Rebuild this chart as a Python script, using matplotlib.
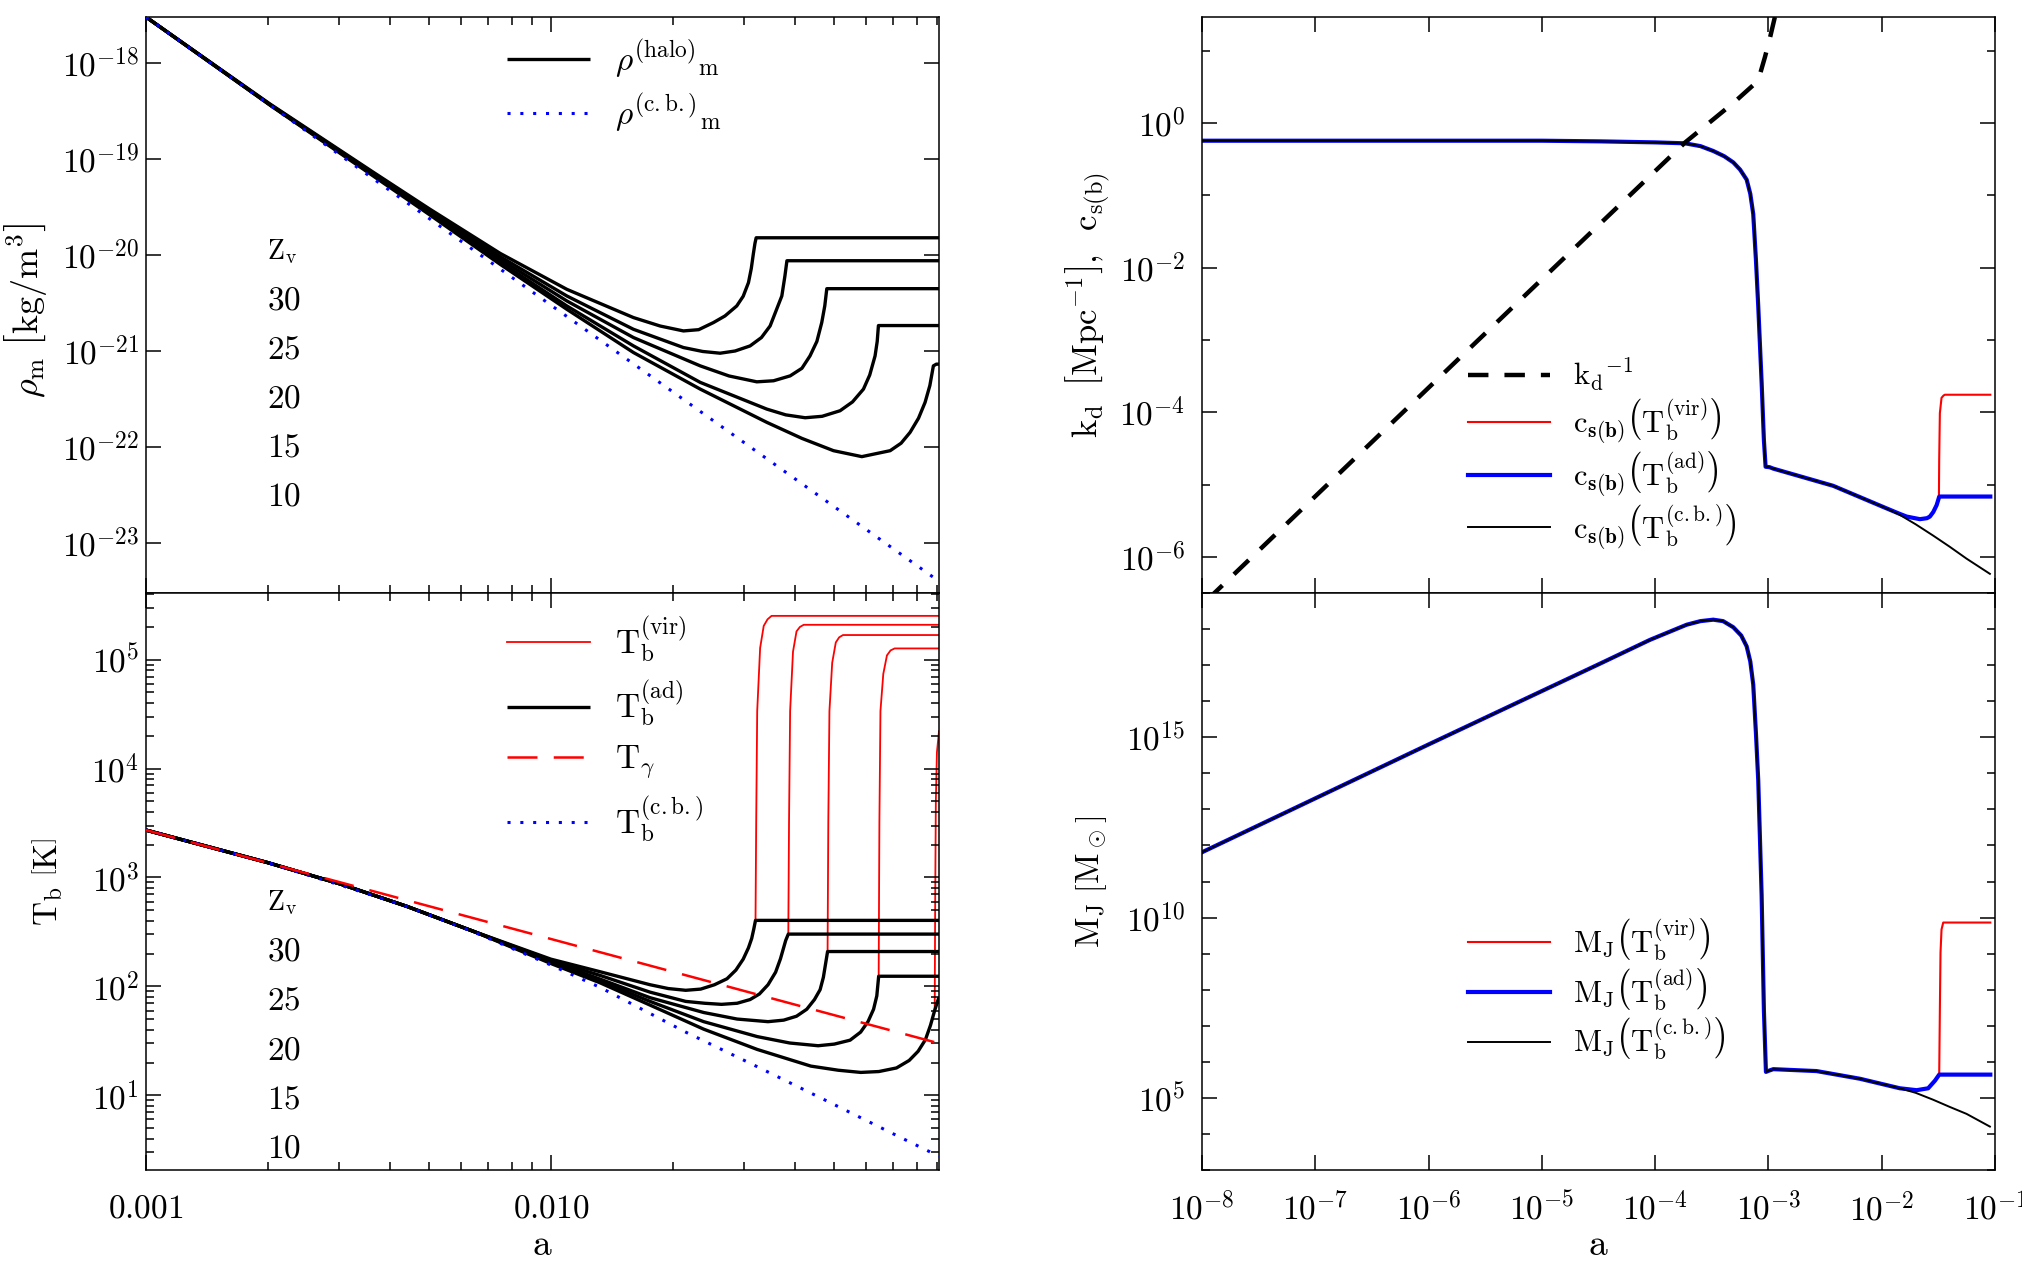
import numpy as np
import matplotlib
matplotlib.use('Agg')
import matplotlib.pyplot as plt
from matplotlib.ticker import FuncFormatter, FixedFormatter, NullFormatter, NullLocator

plt.rcParams['mathtext.fontset'] = 'cm'
plt.rcParams['font.family'] = ['DejaVu Serif']
plt.rcParams['axes.linewidth'] = 1.1

# ---- values (log10 of a and of the plotted quantity) ----

# upper left: rho_m
rho_cb_loga = [-3.0, -1.0414]
rho_cb_logv = [-17.522, -23.398]

rho_z30_loga = [-3.0, -2.693, -2.438, -2.3, -2.125, -1.9605, -1.796, -1.73, -1.6726, -1.635, -1.5985,
                -1.57, -1.541, -1.525, -1.512, -1.505, -1.500, -1.496, -1.493, -1.0414]
rho_z30_logv = [-17.522, -18.43, -19.14, -19.52, -19.984, -20.358, -20.652, -20.74, -20.791, -20.778, -20.704,
                -20.635, -20.531, -20.43, -20.288, -20.14, -19.99, -19.88, -19.821, -19.821]
rho_z25_loga = [-3.0, -2.693, -2.438, -2.3, -2.125, -1.9605, -1.796, -1.6726, -1.625, -1.582, -1.545, -1.508,
                -1.48, -1.4585, -1.4296, -1.422, -1.417, -1.0414]
rho_z25_logv = [-17.522, -18.435, -19.15, -19.535, -20.018, -20.427, -20.774, -20.964, -21.005, -21.023, -21.0,
                -20.947, -20.86, -20.739, -20.427, -20.22, -20.060, -20.060]
rho_z20_loga = [-3.0, -2.693, -2.438, -2.3, -2.125, -1.9605, -1.796, -1.631, -1.56, -1.4914, -1.45, -1.409,
                -1.380, -1.360, -1.343, -1.331, -1.3235, -1.3185, -1.0414]
rho_z20_logv = [-17.522, -18.438, -19.16, -19.55, -20.046, -20.479, -20.860, -21.155, -21.26, -21.321, -21.31,
                -21.259, -21.18, -21.051, -20.90, -20.704, -20.53, -20.351, -20.351]
rho_z15_loga = [-3.0, -2.693, -2.438, -2.3, -2.125, -1.9605, -1.796, -1.631, -1.4667, -1.42, -1.372, -1.33,
                -1.2857, -1.255, -1.228, -1.2125, -1.1993, -1.194, -1.191, -1.0414]
rho_z15_logv = [-17.522, -18.44, -19.17, -19.565, -20.074, -20.531, -20.947, -21.327, -21.605, -21.665, -21.695,
                -21.68, -21.622, -21.53, -21.397, -21.25, -21.051, -20.90, -20.735, -20.735]
rho_z10_loga = [-3.0, -2.693, -2.438, -2.3, -2.125, -1.9605, -1.796, -1.631, -1.4667, -1.38, -1.302, -1.232,
                -1.162, -1.135, -1.1128, -1.092, -1.0758, -1.064, -1.0553, -1.048, -1.0414]
rho_z10_logv = [-17.522, -18.442, -19.18, -19.58, -20.098, -20.566, -21.016, -21.397, -21.743, -21.91, -22.038,
                -22.100, -22.038, -21.96, -21.847, -21.70, -21.535, -21.36, -21.155, -21.137, -21.137]

# lower left: T_b
tgam_loga = [-3.0, -1.0414]
tgam_logv = [3.435, 1.477]
tcb_loga = [-3.0, -2.701, -2.52, -2.356, -2.191, -2.0, -1.878, -1.667, -1.490, -1.314, -1.1375, -1.0414]
tcb_logv = [3.435, 3.138, 2.93, 2.735, 2.50, 2.196, 1.99, 1.58, 1.262, 0.94, 0.615, 0.44]

tad_z30_loga = [-3.0, -2.701, -2.52, -2.356, -2.191, -2.0, -1.878, -1.755, -1.71, -1.667, -1.63, -1.596,
                -1.565, -1.543, -1.525, -1.512, -1.504, -1.499, -1.4946, -1.0414]
tad_z30_logv = [3.435, 3.138, 2.94, 2.735, 2.505, 2.25, 2.134, 2.015, 1.98, 1.964, 1.975, 2.015,
                2.07, 2.150, 2.25, 2.354, 2.44, 2.524, 2.606, 2.606]
tad_z25_loga = [-3.0, -2.701, -2.52, -2.356, -2.191, -2.0, -1.878, -1.755, -1.667, -1.62, -1.5785, -1.54,
                -1.508, -1.485, -1.4637, -1.445, -1.433, -1.420, -1.4136, -1.0414]
tad_z25_logv = [3.435, 3.138, 2.94, 2.735, 2.505, 2.24, 2.100, 1.947, 1.862, 1.845, 1.835, 1.845,
                1.879, 1.93, 2.015, 2.13, 2.253, 2.422, 2.480, 2.480]
tad_z20_loga = [-3.0, -2.701, -2.52, -2.356, -2.191, -2.0, -1.878, -1.755, -1.6225, -1.54, -1.4637, -1.425,
                -1.3933, -1.368, -1.349, -1.335, -1.327, -1.3166, -1.0414]
tad_z20_logv = [3.435, 3.138, 2.94, 2.735, 2.505, 2.23, 2.066, 1.896, 1.760, 1.70, 1.676, 1.69,
                1.726, 1.79, 1.879, 1.97, 2.083, 2.320, 2.320]
tad_z15_loga = [-3.0, -2.701, -2.52, -2.356, -2.191, -2.0, -1.878, -1.755, -1.6225, -1.4904, -1.41, -1.340,
                -1.30, -1.261, -1.235, -1.2168, -1.203, -1.195, -1.1904, -1.0414]
tad_z15_logv = [3.435, 3.138, 2.94, 2.735, 2.505, 2.22, 2.049, 1.862, 1.676, 1.539, 1.48, 1.455,
                1.47, 1.506, 1.58, 1.676, 1.79, 1.913, 2.093, 2.093]
tad_z10_loga = [-3.0, -2.701, -2.52, -2.356, -2.191, -2.0, -1.878, -1.755, -1.6225, -1.4904, -1.358, -1.29,
                -1.2346, -1.19, -1.1464, -1.115, -1.093, -1.075, -1.0625, -1.052, -1.045, -1.0414]
tad_z10_logv = [3.435, 3.138, 2.94, 2.735, 2.505, 2.21, 2.032, 1.828, 1.607, 1.421, 1.268, 1.23,
                1.210, 1.218, 1.251, 1.32, 1.404, 1.51, 1.642, 1.78, 1.862, 1.90]

tvir_z30_loga = [-1.4946, -1.4929, -1.4904, -1.4832, -1.4743, -1.465, -1.455, -1.0414]
tvir_z30_logv = [2.606, 3.510, 4.529, 5.107, 5.310, 5.37, 5.402, 5.402]
tvir_z25_loga = [-1.4136, -1.4118, -1.4091, -1.402, -1.3933, -1.385, -1.3756, -1.0414]
tvir_z25_logv = [2.480, 3.510, 4.529, 5.073, 5.260, 5.30, 5.320, 5.320]
tvir_z20_loga = [-1.3166, -1.3148, -1.312, -1.3052, -1.2963, -1.288, -1.2785, -1.0414]
tvir_z20_logv = [2.320, 3.510, 4.529, 4.971, 5.158, 5.205, 5.226, 5.226]
tvir_z15_loga = [-1.1904, -1.1886, -1.186, -1.179, -1.170, -1.161, -1.151, -1.0414]
tvir_z15_logv = [2.093, 3.510, 4.529, 4.869, 5.039, 5.085, 5.103, 5.103]
tvir_z10_loga = [-1.052, -1.0508, -1.0492, -1.0465, -1.0414]
tvir_z10_logv = [1.78, 2.8, 3.7, 4.15, 4.343]

zv_labels = ['30', '25', '20', '15', '10']

# upper right: k_d^-1 and c_s(b)
kd_loga = [-7.95, -5.6, -3.736, -3.3, -3.104, -3.075, -3.031, -2.987, -2.943, -2.90]
kd_logv = [-6.59, -3.06, -0.27, 0.29, 0.566, 0.672, 0.910, 1.174, 1.466, 1.72]

cs_trunk_loga = [-8.0, -5.0, -4.487, -4.0, -3.736, -3.6, -3.487, -3.39, -3.31, -3.25, -3.192, -3.16, -3.134,
                 -3.110, -3.090, -3.060, -3.040, -3.025, -2.99, -2.957, -2.428, -1.987]
cs_trunk_logv = [-0.245, -0.245, -0.254, -0.268, -0.281, -0.32, -0.387, -0.46, -0.545, -0.645, -0.784, -0.98,
                 -1.260, -1.9, -2.531, -3.589, -4.383, -4.754, -4.76, -4.780, -5.018, -5.310]
cs_ad_tail_loga = [-1.85, -1.78, -1.663, -1.60, -1.575, -1.545, -1.515, -1.492, -1.0414]
cs_ad_tail_logv = [-5.40, -5.443, -5.479, -5.465, -5.443, -5.38, -5.284, -5.166, -5.166]
cs_cb_tail_loga = [-1.85, -1.70, -1.545, -1.40, -1.251, -1.045]
cs_cb_tail_logv = [-5.41, -5.55, -5.707, -5.86, -6.025, -6.235]
cs_vir_loga = [-1.495, -1.4925, -1.4867, -1.472, -1.455, -1.443, -1.0414]
cs_vir_logv = [-5.166, -4.647, -4.012, -3.801, -3.77, -3.758, -3.758]

# lower right: M_J
mj_trunk_loga = [-8.0, -6.0, -4.487, -4.046, -3.722, -3.60, -3.487, -3.40, -3.31, -3.24, -3.192, -3.16, -3.134,
                 -3.110, -3.090, -3.060, -3.040, -3.022, -2.99, -2.957, -2.575, -2.192, -1.84]
mj_trunk_logv = [11.81, 14.80, 17.04, 17.70, 18.12, 18.22, 18.26, 18.22, 18.05, 17.82, 17.52, 17.1, 16.458,
                 15.1, 13.808, 10.622, 7.44, 5.72, 5.76, 5.796, 5.743, 5.53, 5.266]
mj_ad_tail_loga = [-1.692, -1.59, -1.530, -1.4925, -1.0414]
mj_ad_tail_logv = [5.213, 5.266, 5.477, 5.645, 5.645]
mj_cb_tail_loga = [-1.70, -1.545, -1.40, -1.251, -1.045]
mj_cb_tail_logv = [5.14, 4.947, 4.75, 4.556, 4.204]
mj_vir_loga = [-1.4925, -1.4867, -1.481, -1.472, -1.457, -1.0414]
mj_vir_logv = [5.645, 7.44, 9.03, 9.67, 9.862, 9.862]


def pw(v):
    return np.power(10.0, np.asarray(v, dtype=float))


def pow_label(v, pos):
    return r'$10^{%d}$' % int(round(np.log10(v)))


def style(ax, xpad, ypad):
    ax.set_xscale('log')
    ax.set_yscale('log')
    ax.tick_params(which='both', direction='in', top=True, right=True, width=1.1, labelsize=24)
    ax.tick_params(which='major', length=11)
    ax.tick_params(which='minor', length=6)
    ax.tick_params(axis='x', pad=xpad)
    ax.tick_params(axis='y', pad=ypad)
    ax.xaxis.set_minor_formatter(NullFormatter())
    ax.yaxis.set_minor_formatter(NullFormatter())


W, H = 2022, 1261
PANEL_W = 793
fig = plt.figure(figsize=(W / 100, H / 100), dpi=100)


def panel(x0, y0, y1):
    return fig.add_axes([x0 / W, 1 - y1 / H, PANEL_W / W, (y1 - y0) / H])


ax_rho = panel(146, 17, 593)
ax_t = panel(146, 593, 1170)
ax_cs = panel(1202, 17, 593)
ax_mj = panel(1202, 593, 1170)

a_max = 10 ** -1.0414
left_minor = [m * 10.0 ** e for e in (-3, -2) for m in range(2, 10) if m * 10.0 ** e < a_max]
for ax in (ax_rho, ax_t):
    style(ax, 16, 5)
    ax.set_xlim(1e-3, a_max)
    ax.set_xticks([1e-3, 1e-2])
    ax.set_xticks(left_minor, minor=True)
ax_rho.xaxis.set_major_formatter(NullFormatter())
ax_t.xaxis.set_major_formatter(FixedFormatter([r'$0.001$', r'$0.010$']))

# ---- upper left ----
blk = dict(color='black', lw=2.4, solid_capstyle='butt', zorder=2)
rho_curves = [(rho_z30_loga, rho_z30_logv), (rho_z25_loga, rho_z25_logv), (rho_z20_loga, rho_z20_logv),
              (rho_z15_loga, rho_z15_logv), (rho_z10_loga, rho_z10_logv)]
for la, lv in rho_curves:
    h_halo, = ax_rho.plot(pw(la), pw(lv), **blk)
h_cb, = ax_rho.plot(pw(rho_cb_loga), pw(rho_cb_logv), color='#0000ff', lw=2.2, dashes=(1, 3.2), zorder=3)
ax_rho.set_ylim(10 ** -23.52, 10 ** -17.522)
ax_rho.set_yticks(pw(np.arange(-23, -17)))
ax_rho.yaxis.set_minor_locator(NullLocator())
ax_rho.yaxis.set_major_formatter(FuncFormatter(pow_label))
ax_rho.set_ylabel(r'$\rho_{\rm m}\ \left[\rm kg/m^3\right]$', fontsize=26)
ax_rho.yaxis.set_label_coords(-0.122, 0.49)
ax_rho.legend([h_halo, h_cb], [r'$\rho^{\rm (halo)}{}_{\rm m}$', r'$\rho^{\rm (c.b.)}{}_{\rm m}$'],
              loc='upper left', bbox_to_anchor=(0.455, 0.965), frameon=False, fontsize=24,
              handlelength=2.5, handletextpad=0.75, labelspacing=0.35, borderpad=0, borderaxespad=0)
for i, lab in enumerate(['$\\mathrm{Z_v}$'] + ['$%s$' % s for s in zv_labels]):
    ax_rho.text(0.152, 0.592 - 0.085 * i, lab, transform=ax_rho.transAxes, fontsize=24 if i else 20,
                ha='left', va='center')

# ---- lower left ----
for la, lv in [(tvir_z30_loga, tvir_z30_logv), (tvir_z25_loga, tvir_z25_logv), (tvir_z20_loga, tvir_z20_logv),
               (tvir_z15_loga, tvir_z15_logv), (tvir_z10_loga, tvir_z10_logv)]:
    h_vir, = ax_t.plot(pw(la), pw(lv), color='red', lw=1.3, zorder=1)
for la, lv in [(tad_z30_loga, tad_z30_logv), (tad_z25_loga, tad_z25_logv), (tad_z20_loga, tad_z20_logv),
               (tad_z15_loga, tad_z15_logv), (tad_z10_loga, tad_z10_logv)]:
    h_ad, = ax_t.plot(pw(la), pw(lv), **blk)
h_tcb, = ax_t.plot(pw(tcb_loga), pw(tcb_logv), color='#0000ff', lw=2.2, dashes=(1, 3.2), zorder=3)
h_gam, = ax_t.plot(pw(tgam_loga), pw(tgam_logv), color='red', lw=1.8, dashes=(12, 6.5), zorder=4)
ax_t.set_ylim(10 ** 0.314, 10 ** 5.612)
ax_t.set_yticks(pw(np.arange(1, 6)))
ax_t.set_yticks([m * 10.0 ** e for e in range(0, 6) for m in range(2, 10)
                 if 10 ** 0.314 < m * 10.0 ** e < 10 ** 5.612], minor=True)
ax_t.yaxis.set_major_formatter(FuncFormatter(pow_label))
ax_t.set_ylabel(r'$\rm T_b\ \left[K\right]$', fontsize=24)
ax_t.yaxis.set_label_coords(-0.102, 0.5)
ax_t.set_xlabel(r'$\rm a$', fontsize=27)
ax_t.xaxis.label.set_verticalalignment('center')
ax_t.xaxis.set_label_coords(0.5, -0.13)
ax_t.legend([h_vir, h_ad, h_gam, h_tcb],
            [r'$\rm T_b^{(vir)}$', r'$\rm T_b^{(ad)}$', r'$\rm T_\gamma$', r'$\rm T_b^{(c.b.)}$'],
            loc='upper left', bbox_to_anchor=(0.455, 0.962), frameon=False, fontsize=24,
            handlelength=2.5, handletextpad=0.75, labelspacing=0.42, borderpad=0, borderaxespad=0)
for i, lab in enumerate(['$\\mathrm{Z_v}$'] + ['$%s$' % s for s in zv_labels]):
    ax_t.text(0.152, 0.464 - 0.0855 * i, lab, transform=ax_t.transAxes, fontsize=24 if i else 20,
              ha='left', va='center')

# ---- right panels ----
for ax in (ax_cs, ax_mj):
    style(ax, 16, 12)
    ax.set_xlim(1e-8, 1e-1)
    ax.set_xticks(pw(np.arange(-8, 0)))
    ax.xaxis.set_minor_locator(NullLocator())
ax_cs.xaxis.set_major_formatter(NullFormatter())
ax_mj.xaxis.set_major_formatter(FuncFormatter(pow_label))

h_csvir, = ax_cs.plot(pw(cs_vir_loga), pw(cs_vir_logv), color='red', lw=1.5, zorder=1)
h_csad, = ax_cs.plot(pw(cs_trunk_loga + cs_ad_tail_loga), pw(cs_trunk_logv + cs_ad_tail_logv),
                     color='#0000ff', lw=3.0, zorder=2)
h_cscb, = ax_cs.plot(pw(cs_trunk_loga + cs_cb_tail_loga), pw(cs_trunk_logv + cs_cb_tail_logv),
                     color='black', lw=1.4, zorder=3)
h_kd, = ax_cs.plot(pw(kd_loga), pw(kd_logv), color='black', lw=3.2, dashes=(4.6, 3.6), zorder=4)
ax_cs.set_ylim(10 ** -6.5, 10 ** 1.466)
ax_cs.set_yticks(pw([-6, -4, -2, 0]))
ax_cs.set_yticks(pw([-5, -3, -1, 1]), minor=True)
ax_cs.yaxis.set_major_formatter(FuncFormatter(pow_label))
ax_cs.set_ylabel(r'$\rm k_d\;\;\left[Mpc^{-1}\right],\;\;c_{s(b)}$', fontsize=25)
ax_cs.yaxis.set_label_coords(-0.113, 0.5)
ax_cs.legend([h_kd, h_csvir, h_csad, h_cscb],
             [r'$\rm k_d{}^{-1}$',
              r'$\mathrm{c}_{\mathbf{s(b)}}\left(\mathrm{T_b^{(vir)}}\right)$',
              r'$\mathrm{c}_{\mathbf{s(b)}}\left(\mathrm{T_b^{(ad)}}\right)$',
              r'$\mathrm{c}_{\mathbf{s(b)}}\left(\mathrm{T_b^{(c.b.)}}\right)$'],
             loc='upper left', bbox_to_anchor=(0.335, 0.41), frameon=False, fontsize=22,
             handlelength=2.7, handletextpad=0.75, labelspacing=0.1, borderpad=0, borderaxespad=0)

h_mjvir, = ax_mj.plot(pw(mj_vir_loga), pw(mj_vir_logv), color='red', lw=1.5, zorder=1)
h_mjad, = ax_mj.plot(pw(mj_trunk_loga + mj_ad_tail_loga), pw(mj_trunk_logv + mj_ad_tail_logv),
                     color='#0000ff', lw=3.0, zorder=2)
h_mjcb, = ax_mj.plot(pw(mj_trunk_loga + mj_cb_tail_loga), pw(mj_trunk_logv + mj_cb_tail_logv),
                     color='black', lw=1.4, zorder=3)
ax_mj.set_ylim(1e3, 1e19)
ax_mj.set_yticks(pw([5, 10, 15]))
ax_mj.set_yticks(pw([e for e in range(3, 20) if e % 5]), minor=True)
ax_mj.yaxis.set_major_formatter(FuncFormatter(pow_label))
ax_mj.set_ylabel(r'$\rm M_J\ \left[M_\odot\right]$', fontsize=24)
ax_mj.yaxis.set_label_coords(-0.117, 0.5)
ax_mj.set_xlabel(r'$\rm a$', fontsize=27)
ax_mj.xaxis.label.set_verticalalignment('center')
ax_mj.xaxis.set_label_coords(0.5, -0.13)
ax_mj.legend([h_mjvir, h_mjad, h_mjcb],
             [r'$\mathrm{M_J}\left(\mathrm{T_b^{(vir)}}\right)$',
              r'$\mathrm{M_J}\left(\mathrm{T_b^{(ad)}}\right)$',
              r'$\mathrm{M_J}\left(\mathrm{T_b^{(c.b.)}}\right)$'],
             loc='upper left', bbox_to_anchor=(0.335, 0.44), frameon=False, fontsize=22,
             handlelength=2.7, handletextpad=0.75, labelspacing=0.1, borderpad=0, borderaxespad=0)

fig.savefig('out.png', dpi=100)
